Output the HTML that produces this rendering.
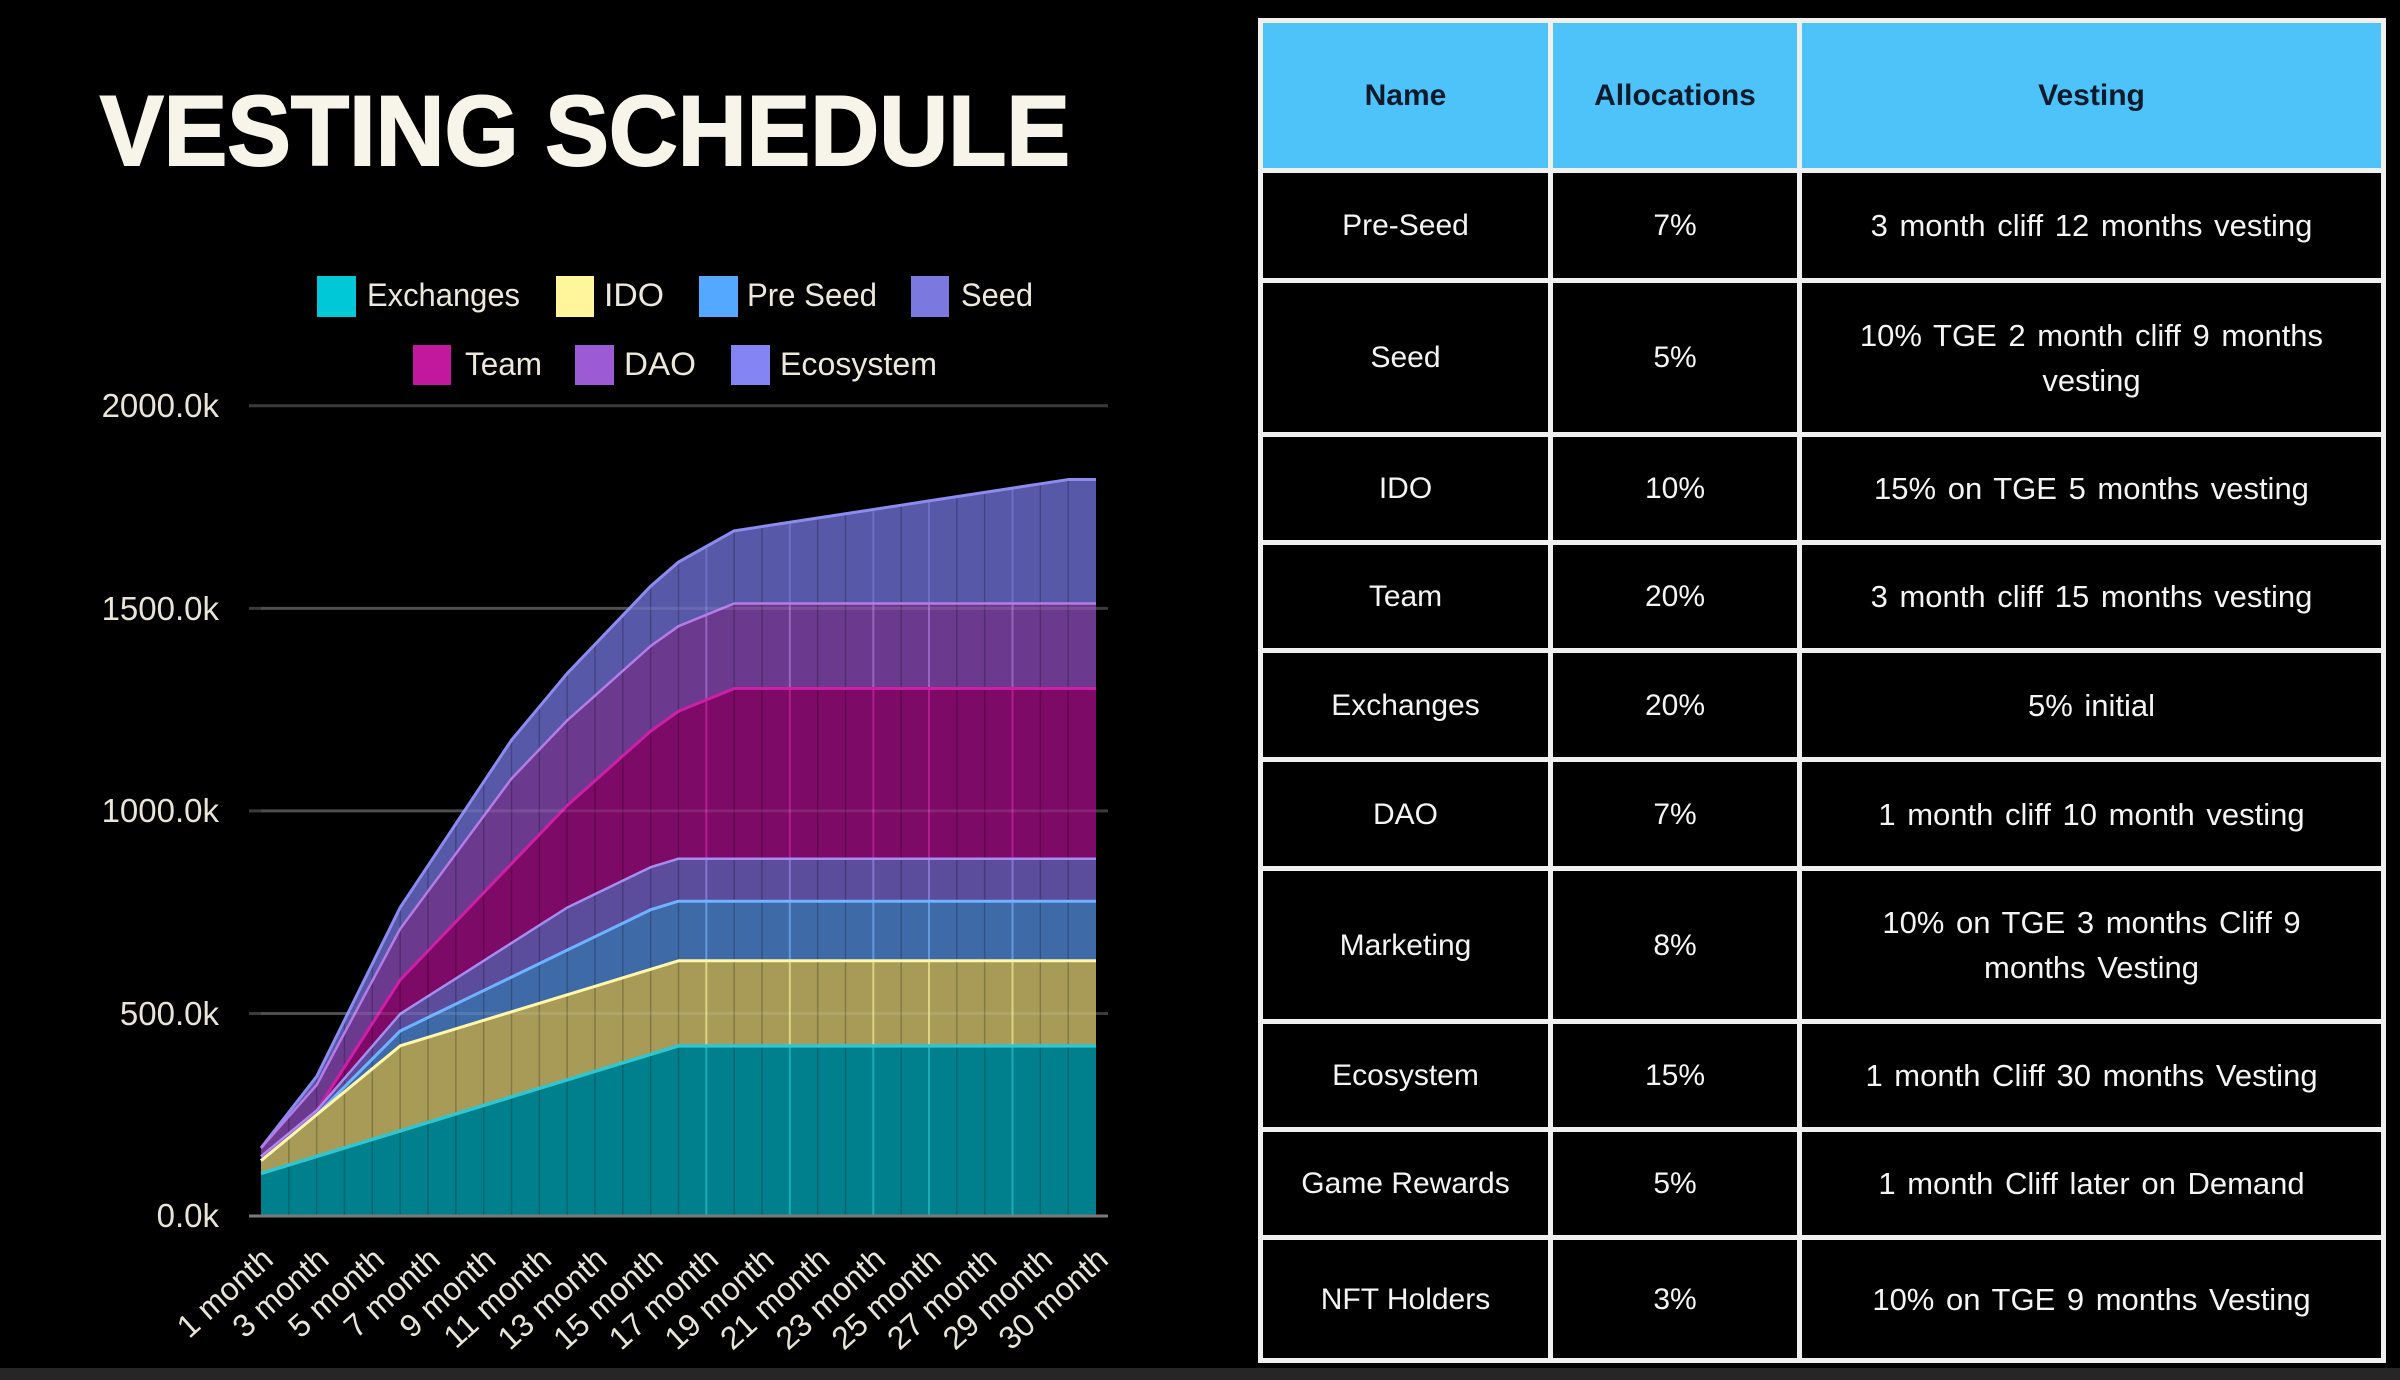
<!DOCTYPE html>
<html>
<head>
<meta charset="utf-8">
<style>
  html, body { margin:0; padding:0; background:#000; }
  body { width:2400px; height:1380px; position:relative; overflow:hidden; font-family:"Liberation Sans", Arial, sans-serif; }
  svg.main { position:absolute; left:0; top:0; }
  .bottombar { position:absolute; left:0; top:1368px; width:2400px; height:12px; background:#262626; }
  .tbl {
    position:absolute; left:1258px; top:18px;
    display:grid; box-sizing:border-box;
    padding:5px; gap:5px; background:#f0f0f0;
    grid-template-columns: 285px 244px 579px;
    grid-template-rows: 145px 105px 149px 103px 103px 104px 104px 148px 103px 103px 118px;
  }
  .tbl div {
    background:#000; color:#f4f4f4;
    display:flex; align-items:center; justify-content:center; text-align:center;
    font-family:"Liberation Sans", Arial, sans-serif; font-size:30px; line-height:45px;
  }
  .tbl div.h { background:#4dc3fa; color:#0c1b2b; font-weight:bold; font-size:30px; }
  .tbl div.v { font-size:31px; word-spacing:3px; }
</style>
</head>
<body>
<svg class="main" width="2400" height="1380" viewBox="0 0 2400 1380" xmlns="http://www.w3.org/2000/svg">
  <!-- Title -->
  <text x="100" y="165" font-family="Liberation Sans, Arial, sans-serif" font-weight="bold" font-size="99" fill="#f7f4ea" stroke="#f7f4ea" stroke-width="2" textLength="970" lengthAdjust="spacingAndGlyphs">VESTING SCHEDULE</text>

  <!-- Legend -->
  <g font-family="Liberation Sans, Arial, sans-serif" font-size="32" fill="#ece8dc">
    <rect x="317" y="276" width="39" height="41" fill="#00c8d7"/>
    <text x="367" y="306" textLength="153" lengthAdjust="spacingAndGlyphs">Exchanges</text>
    <rect x="556" y="276" width="38" height="41" fill="#fff59a"/>
    <text x="604" y="306" textLength="60" lengthAdjust="spacingAndGlyphs">IDO</text>
    <rect x="699" y="276" width="39" height="41" fill="#55a8ff"/>
    <text x="747" y="306" textLength="130" lengthAdjust="spacingAndGlyphs">Pre Seed</text>
    <rect x="911" y="276" width="38" height="41" fill="#7b78e0"/>
    <text x="961" y="306" textLength="72" lengthAdjust="spacingAndGlyphs">Seed</text>

    <rect x="413" y="345" width="38" height="40" fill="#c1189e"/>
    <text x="465" y="375" textLength="77" lengthAdjust="spacingAndGlyphs">Team</text>
    <rect x="575" y="345" width="39" height="40" fill="#9c5bd4"/>
    <text x="624" y="375" textLength="72" lengthAdjust="spacingAndGlyphs">DAO</text>
    <rect x="731" y="345" width="39" height="40" fill="#8484f5"/>
    <text x="780" y="375" textLength="157" lengthAdjust="spacingAndGlyphs">Ecosystem</text>
  </g>

  <!-- Gridlines (under) -->
  <g stroke="#3a3a3a" stroke-width="3">
    <line x1="249" y1="405.8" x2="1108" y2="405.8"/>
    <line x1="249" y1="608.35" x2="1108" y2="608.35"/>
    <line x1="249" y1="810.9" x2="1108" y2="810.9"/>
    <line x1="249" y1="1013.45" x2="1108" y2="1013.45"/>
  </g>

  <!-- Y labels -->
  <g font-family="Liberation Sans, Arial, sans-serif" font-size="33" fill="#e8e4d8" text-anchor="end">
    <text x="219" y="417">2000.0k</text>
    <text x="219" y="620">1500.0k</text>
    <text x="219" y="822">1000.0k</text>
    <text x="219" y="1025">500.0k</text>
    <text x="219" y="1227">0.0k</text>
  </g>

  <!-- Data areas: data coords (i, value k) -->
  <g transform="translate(261,1216) scale(27.8333,-0.4051)">
    <!-- Ecosystem (C7) -->
    <polygon fill="#5858a8" points="0,0 0,168 1,256.25 2,344.5 3,483.5 4,622.5 5,761.5 6,864.8 7,968.1 8,1071.4 9,1174.7 10,1257 11,1339.3 12,1411.1 13,1482.9 14,1554.7 15,1614.25 16,1652.8 17,1691.35 18,1701.9 19,1712.45 20,1723 21,1733.55 22,1744.1 23,1754.65 24,1765.2 25,1775.75 26,1786.3 27,1796.85 28,1807.4 29,1817.95 30,1817.95 30,0"/>
    <!-- DAO (C6) -->
    <polygon fill="#6b3a8e" points="0,0 0,168 1,245.7 2,323.4 3,451.85 4,580.3 5,708.75 6,801.5 7,894.25 8,987 9,1079.75 10,1151.5 11,1223.25 12,1284.5 13,1345.75 14,1407 15,1456 16,1484 17,1512 30,1512 30,0"/>
    <!-- Team (C5) -->
    <polygon fill="#7d0a66" points="0,0 0,147 1,203.7 2,260.4 3,367.85 4,475.3 5,582.75 6,654.5 7,726.25 8,798 9,869.75 10,941.5 11,1013.25 12,1074.5 13,1135.75 14,1197 15,1246 16,1274 17,1302 30,1302 30,0"/>
    <!-- Seed (C4) -->
    <polygon fill="#5b4c9c" points="0,0 0,147 1,203.7 2,260.4 3,339.85 4,419.3 5,498.75 6,542.5 7,586.25 8,630 9,673.75 10,717.5 11,761.25 12,794.5 13,827.75 14,861 15,882 30,882 30,0"/>
    <!-- Pre Seed (C3) -->
    <polygon fill="#3f6aa8" points="0,0 0,136.5 1,193.2 2,249.9 3,318.85 4,387.8 5,456.75 6,490 7,523.25 8,556.5 9,589.75 10,623 11,656.25 12,689.5 13,722.75 14,756 15,777 30,777 30,0"/>
    <!-- IDO (C2) -->
    <polygon fill="#a89b58" points="0,0 0,136.5 1,193.2 2,249.9 3,306.6 4,363.3 5,420 6,441 7,462 8,483 9,504 10,525 11,546 12,567 13,588 14,609 15,630 30,630 30,0"/>
    <!-- Exchanges (C1) -->
    <polygon fill="#00808c" points="0,0 0,105 15,420 30,420 30,0"/>

    <!-- dark seams at each index -->
    <g stroke="#000" stroke-opacity="0.22" stroke-width="1.5" vector-effect="non-scaling-stroke">
      <line x1="1" y1="0" x2="1" y2="256" vector-effect="non-scaling-stroke"/>
      <line x1="2" y1="0" x2="2" y2="344" vector-effect="non-scaling-stroke"/>
      <line x1="3" y1="0" x2="3" y2="483" vector-effect="non-scaling-stroke"/>
      <line x1="4" y1="0" x2="4" y2="622" vector-effect="non-scaling-stroke"/>
      <line x1="5" y1="0" x2="5" y2="761" vector-effect="non-scaling-stroke"/>
      <line x1="6" y1="0" x2="6" y2="864" vector-effect="non-scaling-stroke"/>
      <line x1="7" y1="0" x2="7" y2="968" vector-effect="non-scaling-stroke"/>
      <line x1="8" y1="0" x2="8" y2="1071" vector-effect="non-scaling-stroke"/>
      <line x1="9" y1="0" x2="9" y2="1174" vector-effect="non-scaling-stroke"/>
      <line x1="10" y1="0" x2="10" y2="1257" vector-effect="non-scaling-stroke"/>
      <line x1="11" y1="0" x2="11" y2="1339" vector-effect="non-scaling-stroke"/>
      <line x1="12" y1="0" x2="12" y2="1411" vector-effect="non-scaling-stroke"/>
      <line x1="13" y1="0" x2="13" y2="1482" vector-effect="non-scaling-stroke"/>
      <line x1="14" y1="0" x2="14" y2="1554" vector-effect="non-scaling-stroke"/>
      <line x1="15" y1="0" x2="15" y2="1614" vector-effect="non-scaling-stroke"/>
      <line x1="17" y1="0" x2="17" y2="1691" vector-effect="non-scaling-stroke"/>
      <line x1="18" y1="0" x2="18" y2="1701" vector-effect="non-scaling-stroke"/>
      <line x1="20" y1="0" x2="20" y2="1723" vector-effect="non-scaling-stroke"/>
      <line x1="21" y1="0" x2="21" y2="1733" vector-effect="non-scaling-stroke"/>
      <line x1="23" y1="0" x2="23" y2="1754" vector-effect="non-scaling-stroke"/>
      <line x1="25" y1="0" x2="25" y2="1775" vector-effect="non-scaling-stroke"/>
      <line x1="26" y1="0" x2="26" y2="1786" vector-effect="non-scaling-stroke"/>
      <line x1="28" y1="0" x2="28" y2="1807" vector-effect="non-scaling-stroke"/>
      <line x1="29" y1="0" x2="29" y2="1817" vector-effect="non-scaling-stroke"/>
    </g>

    <!-- bright seams in flat region -->
    <g stroke-width="2" stroke-opacity="0.6">
      <g stroke="#2ccad4">
        <line x1="16" y1="0" x2="16" y2="420" vector-effect="non-scaling-stroke"/>
        <line x1="19" y1="0" x2="19" y2="420" vector-effect="non-scaling-stroke"/>
        <line x1="22" y1="0" x2="22" y2="420" vector-effect="non-scaling-stroke"/>
        <line x1="24" y1="0" x2="24" y2="420" vector-effect="non-scaling-stroke"/>
        <line x1="27" y1="0" x2="27" y2="420" vector-effect="non-scaling-stroke"/>
      </g>
      <g stroke="#fff7a0">
        <line x1="16" y1="420" x2="16" y2="630" vector-effect="non-scaling-stroke"/>
        <line x1="19" y1="420" x2="19" y2="630" vector-effect="non-scaling-stroke"/>
        <line x1="22" y1="420" x2="22" y2="630" vector-effect="non-scaling-stroke"/>
        <line x1="24" y1="420" x2="24" y2="630" vector-effect="non-scaling-stroke"/>
        <line x1="27" y1="420" x2="27" y2="630" vector-effect="non-scaling-stroke"/>
      </g>
      <g stroke="#7ab8ff">
        <line x1="16" y1="630" x2="16" y2="777" vector-effect="non-scaling-stroke"/>
        <line x1="19" y1="630" x2="19" y2="777" vector-effect="non-scaling-stroke"/>
        <line x1="22" y1="630" x2="22" y2="777" vector-effect="non-scaling-stroke"/>
        <line x1="24" y1="630" x2="24" y2="777" vector-effect="non-scaling-stroke"/>
        <line x1="27" y1="630" x2="27" y2="777" vector-effect="non-scaling-stroke"/>
      </g>
      <g stroke="#a090ee">
        <line x1="16" y1="777" x2="16" y2="882" vector-effect="non-scaling-stroke"/>
        <line x1="19" y1="777" x2="19" y2="882" vector-effect="non-scaling-stroke"/>
        <line x1="22" y1="777" x2="22" y2="882" vector-effect="non-scaling-stroke"/>
        <line x1="24" y1="777" x2="24" y2="882" vector-effect="non-scaling-stroke"/>
        <line x1="27" y1="777" x2="27" y2="882" vector-effect="non-scaling-stroke"/>
      </g>
      <g stroke="#d02aa8">
        <line x1="16" y1="882" x2="16" y2="1274" vector-effect="non-scaling-stroke"/>
        <line x1="19" y1="882" x2="19" y2="1302" vector-effect="non-scaling-stroke"/>
        <line x1="22" y1="882" x2="22" y2="1302" vector-effect="non-scaling-stroke"/>
        <line x1="24" y1="882" x2="24" y2="1302" vector-effect="non-scaling-stroke"/>
        <line x1="27" y1="882" x2="27" y2="1302" vector-effect="non-scaling-stroke"/>
      </g>
      <g stroke="#b080e0">
        <line x1="16" y1="1274" x2="16" y2="1484" vector-effect="non-scaling-stroke"/>
        <line x1="19" y1="1302" x2="19" y2="1512" vector-effect="non-scaling-stroke"/>
        <line x1="22" y1="1302" x2="22" y2="1512" vector-effect="non-scaling-stroke"/>
        <line x1="24" y1="1302" x2="24" y2="1512" vector-effect="non-scaling-stroke"/>
        <line x1="27" y1="1302" x2="27" y2="1512" vector-effect="non-scaling-stroke"/>
      </g>
      <g stroke="#9090f0" stroke-opacity="0.4">
        <line x1="16" y1="1484" x2="16" y2="1652" vector-effect="non-scaling-stroke"/>
        <line x1="19" y1="1512" x2="19" y2="1712" vector-effect="non-scaling-stroke"/>
        <line x1="22" y1="1512" x2="22" y2="1744" vector-effect="non-scaling-stroke"/>
        <line x1="24" y1="1512" x2="24" y2="1765" vector-effect="non-scaling-stroke"/>
        <line x1="27" y1="1512" x2="27" y2="1796" vector-effect="non-scaling-stroke"/>
      </g>
    </g>

    <!-- series lines -->
    <g fill="none" stroke-linejoin="round">
      <polyline vector-effect="non-scaling-stroke" stroke="#8b8bf0" stroke-width="3" points="0,168 1,256.25 2,344.5 3,483.5 4,622.5 5,761.5 6,864.8 7,968.1 8,1071.4 9,1174.7 10,1257 11,1339.3 12,1411.1 13,1482.9 14,1554.7 15,1614.25 16,1652.8 17,1691.35 18,1701.9 19,1712.45 20,1723 21,1733.55 22,1744.1 23,1754.65 24,1765.2 25,1775.75 26,1786.3 27,1796.85 28,1807.4 29,1817.95 30,1817.95"/>
      <polyline vector-effect="non-scaling-stroke" stroke="#b57be6" stroke-width="2.5" points="0,168 1,245.7 2,323.4 3,451.85 4,580.3 5,708.75 6,801.5 7,894.25 8,987 9,1079.75 10,1151.5 11,1223.25 12,1284.5 13,1345.75 14,1407 15,1456 16,1484 17,1512 30,1512"/>
      <polyline vector-effect="non-scaling-stroke" stroke="#cc1fa5" stroke-width="3" points="0,147 1,203.7 2,260.4 3,367.85 4,475.3 5,582.75 6,654.5 7,726.25 8,798 9,869.75 10,941.5 11,1013.25 12,1074.5 13,1135.75 14,1197 15,1246 16,1274 17,1302 30,1302"/>
      <polyline vector-effect="non-scaling-stroke" stroke="#a58ef0" stroke-width="2.5" points="0,147 1,203.7 2,260.4 3,339.85 4,419.3 5,498.75 6,542.5 7,586.25 8,630 9,673.75 10,717.5 11,761.25 12,794.5 13,827.75 14,861 15,882 30,882"/>
      <polyline vector-effect="non-scaling-stroke" stroke="#6fb2ff" stroke-width="3" points="0,136.5 1,193.2 2,249.9 3,318.85 4,387.8 5,456.75 6,490 7,523.25 8,556.5 9,589.75 10,623 11,656.25 12,689.5 13,722.75 14,756 15,777 30,777"/>
      <polyline vector-effect="non-scaling-stroke" stroke="#fff8a8" stroke-width="3" points="0,136.5 1,193.2 2,249.9 3,306.6 4,363.3 5,420 6,441 7,462 8,483 9,504 10,525 11,546 12,567 13,588 14,609 15,630 30,630"/>
      <polyline vector-effect="non-scaling-stroke" stroke="#2fc6d0" stroke-width="3.5" points="0,105 15,420 30,420"/>
    </g>
  </g>

  <!-- faint gridlines over areas -->
  <g stroke="#ffffff" stroke-opacity="0.1" stroke-width="3">
    <line x1="261" y1="608.35" x2="1096" y2="608.35"/>
    <line x1="261" y1="810.9" x2="1096" y2="810.9"/>
    <line x1="261" y1="1013.45" x2="1096" y2="1013.45"/>
  </g>
  <!-- zero line -->
  <line x1="249" y1="1216" x2="1108" y2="1216" stroke="#7a7a7a" stroke-width="3"/>

  <!-- X labels -->
  <g font-family="Liberation Sans, Arial, sans-serif" font-size="32" fill="#e8e4d8" text-anchor="end">
    <text transform="translate(275,1262) rotate(-42)">1 month</text>
    <text transform="translate(330.7,1262) rotate(-42)">3 month</text>
    <text transform="translate(386.3,1262) rotate(-42)">5 month</text>
    <text transform="translate(442,1262) rotate(-42)">7 month</text>
    <text transform="translate(497.7,1262) rotate(-42)">9 month</text>
    <text transform="translate(553.3,1262) rotate(-42)">11 month</text>
    <text transform="translate(609,1262) rotate(-42)">13 month</text>
    <text transform="translate(664.7,1262) rotate(-42)">15 month</text>
    <text transform="translate(720.3,1262) rotate(-42)">17 month</text>
    <text transform="translate(776,1262) rotate(-42)">19 month</text>
    <text transform="translate(831.7,1262) rotate(-42)">21 month</text>
    <text transform="translate(887.3,1262) rotate(-42)">23 month</text>
    <text transform="translate(943,1262) rotate(-42)">25 month</text>
    <text transform="translate(998.7,1262) rotate(-42)">27 month</text>
    <text transform="translate(1054.3,1262) rotate(-42)">29 month</text>
    <text transform="translate(1110,1262) rotate(-42)">30 month</text>
  </g>
</svg>

<div class="tbl">
  <div class="h">Name</div><div class="h">Allocations</div><div class="h">Vesting</div>
  <div>Pre-Seed</div><div>7%</div><div class="v">3 month cliff 12 months vesting</div>
  <div>Seed</div><div>5%</div><div class="v">10% TGE 2 month cliff 9 months<br>vesting</div>
  <div>IDO</div><div>10%</div><div class="v">15% on TGE 5 months vesting</div>
  <div>Team</div><div>20%</div><div class="v">3 month cliff 15 months vesting</div>
  <div>Exchanges</div><div>20%</div><div class="v">5% initial</div>
  <div>DAO</div><div>7%</div><div class="v">1 month cliff 10 month vesting</div>
  <div>Marketing</div><div>8%</div><div class="v">10% on TGE 3 months Cliff 9<br>months Vesting</div>
  <div>Ecosystem</div><div>15%</div><div class="v">1 month Cliff 30 months Vesting</div>
  <div>Game Rewards</div><div>5%</div><div class="v">1 month Cliff later on Demand</div>
  <div>NFT Holders</div><div>3%</div><div class="v">10% on TGE 9 months Vesting</div>
</div>

<div class="bottombar"></div>
</body>
</html>
